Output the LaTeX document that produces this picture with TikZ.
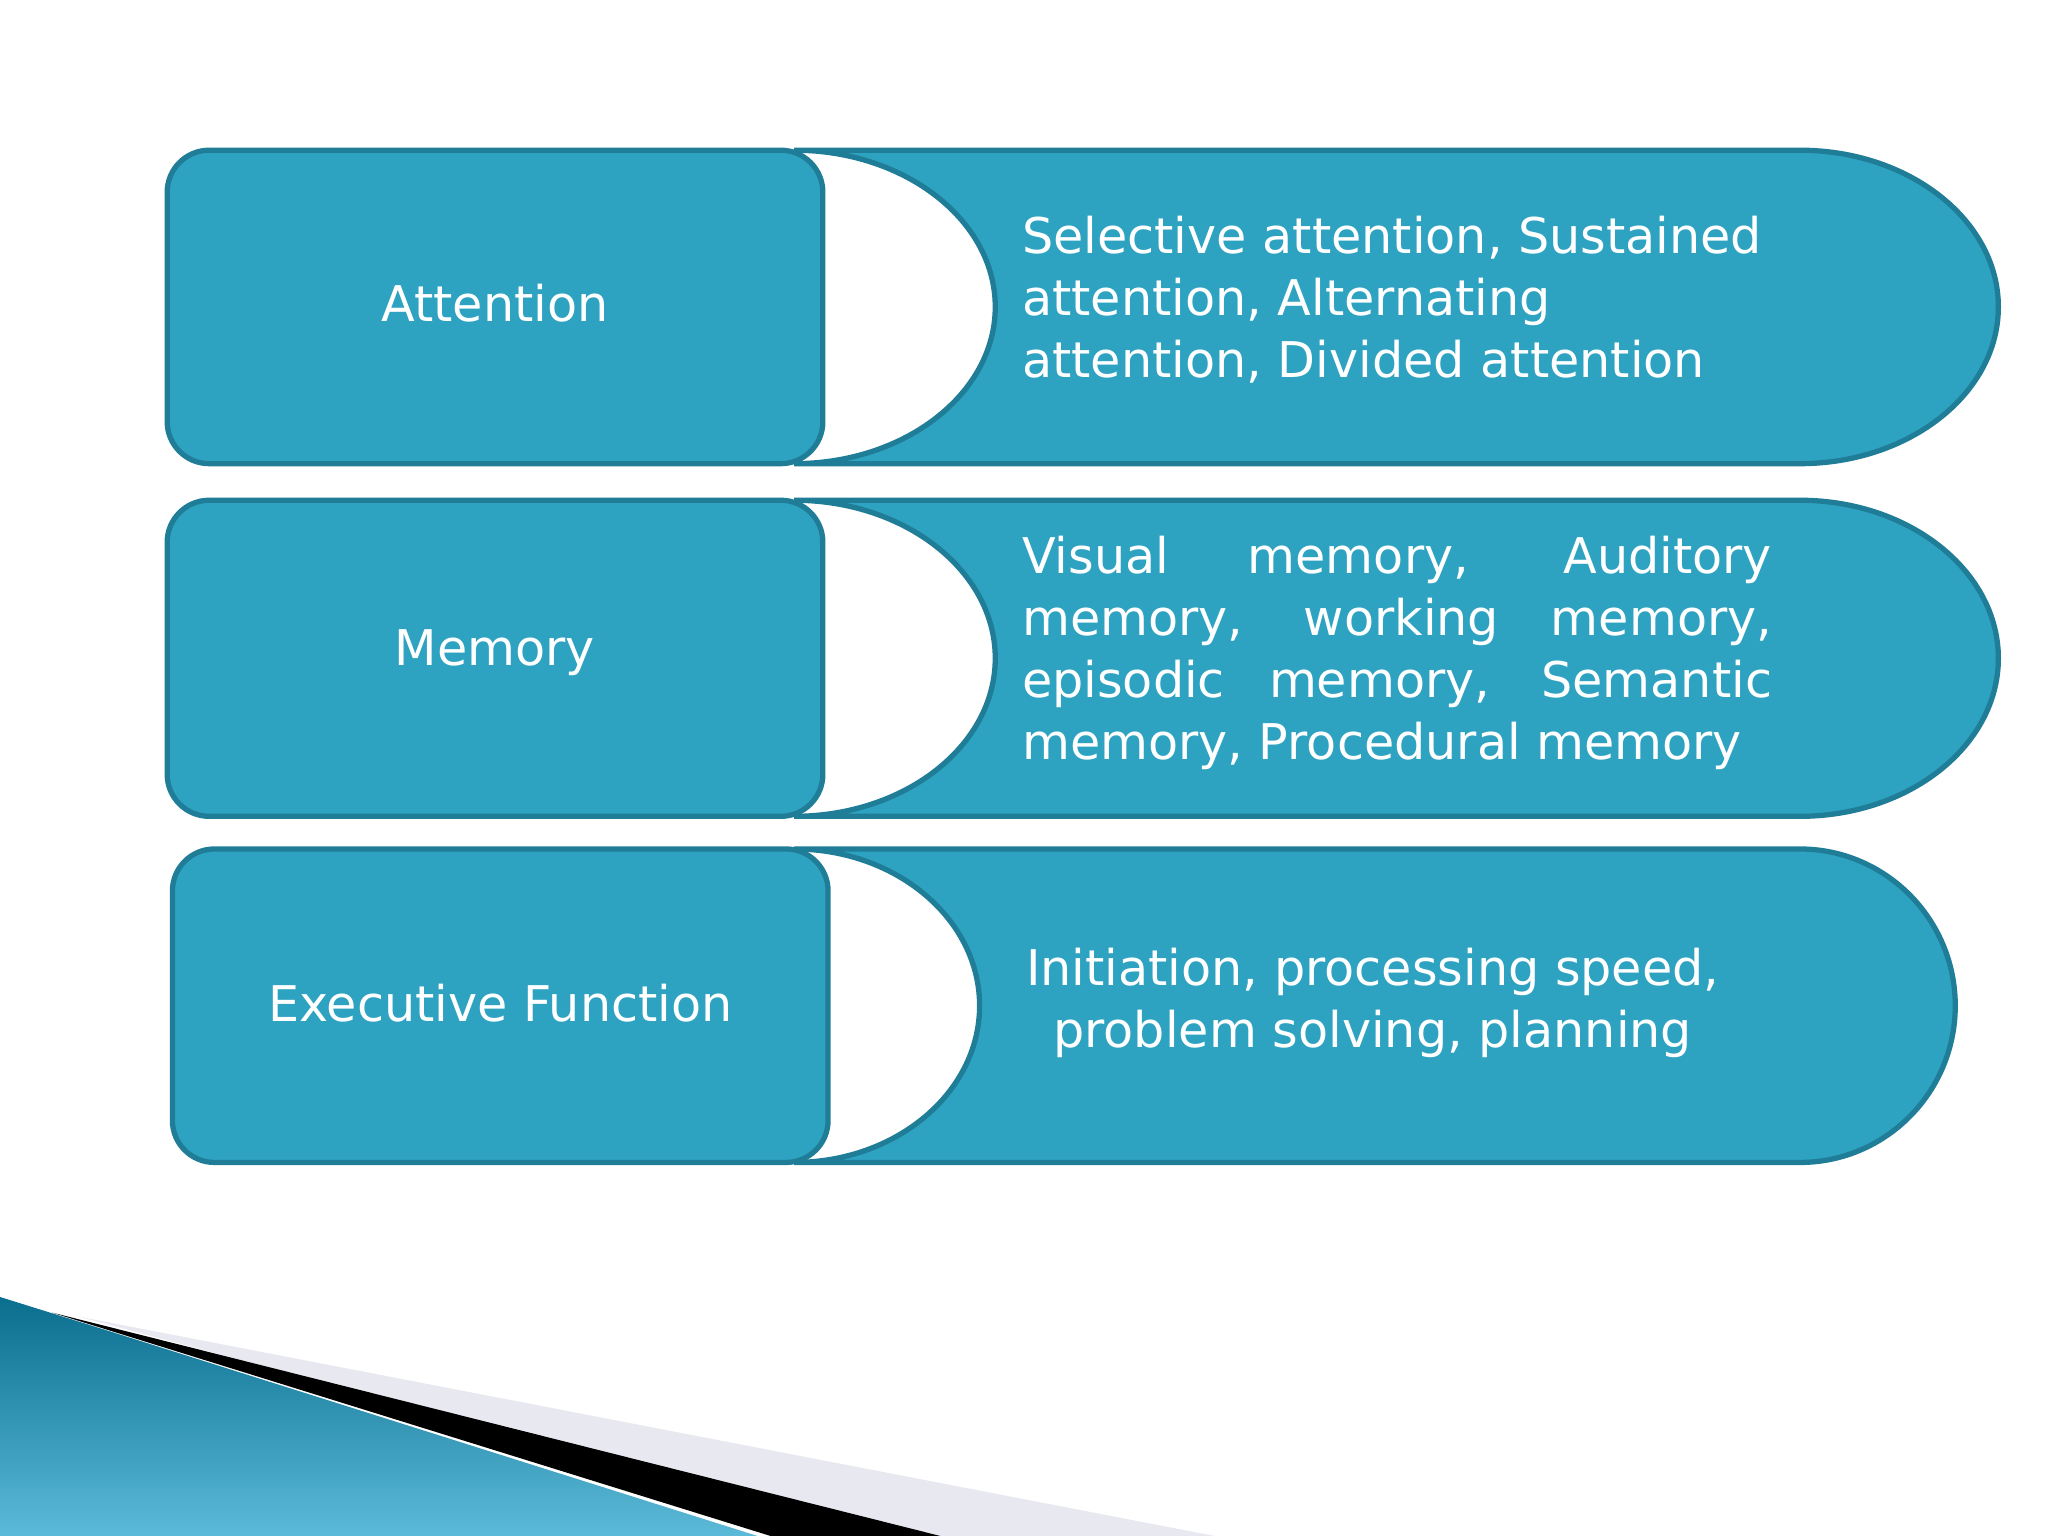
\documentclass[tikz,border=0pt]{standalone}
\usepackage{fontspec}
\setmainfont{DejaVu Sans}
\begin{document}
\begin{tikzpicture}[x=0.013061cm,y=-0.013061cm,
  box/.style={fill=boxc,draw=edgec,line width=1.5pt},
  txt/.style={text=white,font=\fontsize{14}{17.6}\selectfont,inner sep=0pt}]
\definecolor{boxc}{HTML}{2EA3C1}
\definecolor{edgec}{HTML}{1F7D97}
\definecolor{decdark}{HTML}{0A6E8E}
\definecolor{declight}{HTML}{5BBAD8}
\useasboundingbox (0,0) rectangle (1568,1176);
\fill[white] (0,0) rectangle (1568,1176);
% decoration
\fill[blue!20!gray!15] (60,1008) -- (930,1176) -- (690,1176) -- cycle;
\fill[black] (40,1005) -- (720,1176) -- (590,1176) -- cycle;
\shade[left color=decdark,right color=declight,shading angle=0] (0,993) -- (80,1018) -- (580,1176) -- (0,1176) -- cycle;
% rows
\foreach \t/\b/\l/\r/\c/\e/\n in {115/355/128/630/762/1530/a, 383/625/128/630/762/1530/b, 650/890/132/634/750/1497/c}{
  \pgfmathsetmacro{\m}{(\t+\b)/2}
  \pgfmathsetmacro{\h}{(\b-\t)/2}
  \pgfmathsetmacro{\s}{1378}
  \pgfmathsetmacro{\rx}{\e-\s}
  \pgfmathsetmacro{\cx}{\c-608}
  \draw[box,rounded corners=0.42cm] (\l,\t) rectangle (\r,\b);
  \draw[box] (608,\t) -- (\s,\t) .. controls (\s+0.552*\rx,\t) and (\e,\m-0.552*\h) .. (\e,\m)
     .. controls (\e,\m+0.552*\h) and (\s+0.552*\rx,\b) .. (\s,\b) -- (608,\b)
     .. controls (608+0.552*\cx,\b) and (\c,\m+0.552*\h) .. (\c,\m)
     .. controls (\c,\m-0.552*\h) and (608+0.552*\cx,\t) .. (608,\t) -- cycle;
}
\node[txt] (l1) at (379,232) {Attention};
\node[txt] (l2) at (379,500) {Memory};
\node[txt] (l3) at (383,768) {Executive Function};
\node[txt,anchor=north west,align=left] (r1) at (782,165) {Selective attention, Sustained\\ attention, Alternating\\ attention, Divided attention};
\node[txt,anchor=north west,text width=7.5cm,align=justify] (r2) at (782,410) {Visual memory, Auditory memory, working memory, episodic memory, Semantic memory, Procedural memory};
\node[txt,align=center] (r3) at (1051,768) {Initiation, processing speed,\\ problem solving, planning};
\end{tikzpicture}
\end{document}
